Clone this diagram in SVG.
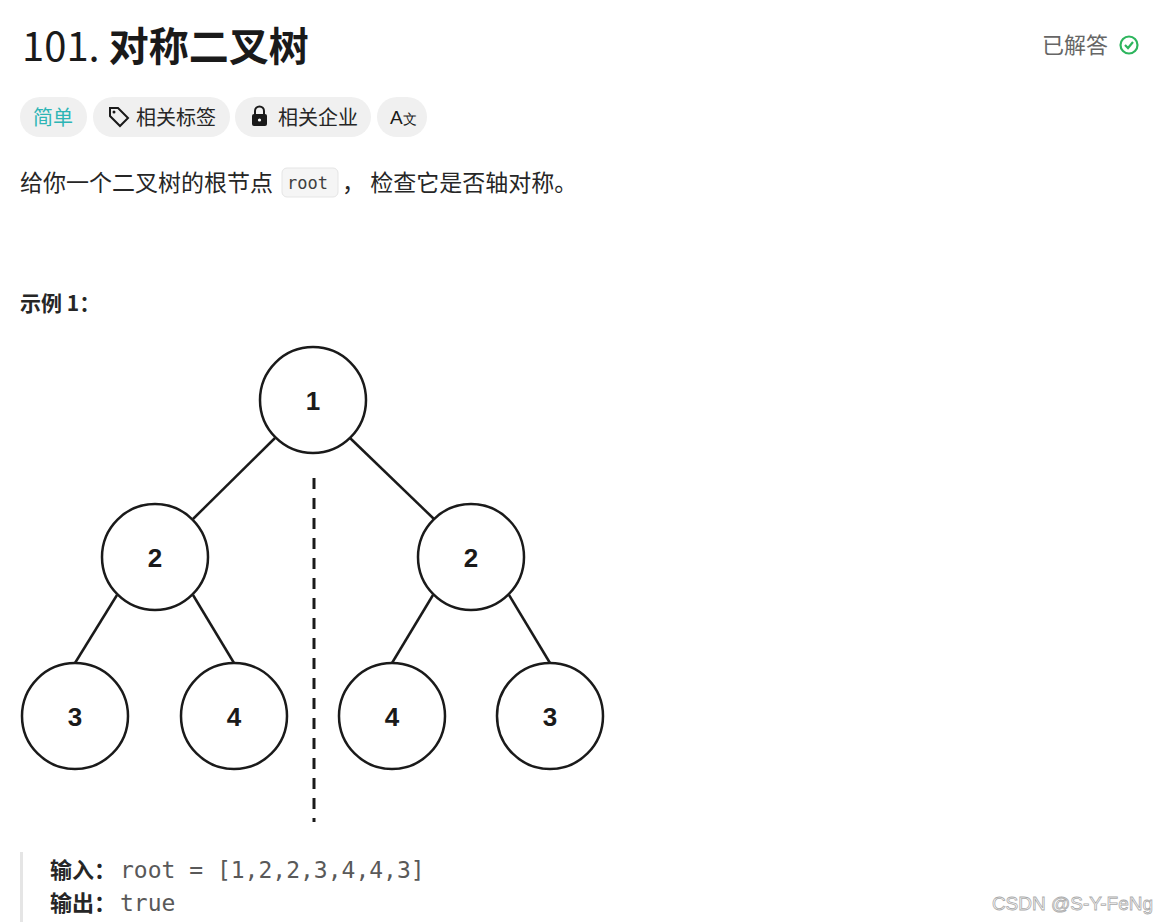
<svg xmlns="http://www.w3.org/2000/svg" width="1157" height="922" viewBox="0 0 1157 922">
<style>
.cjk{font-family:"Noto Sans CJK SC","Noto Sans",sans-serif}
.pill{fill:#f0f0f0}
.n{fill:#fff;stroke:#1a1a1a;stroke-width:2.5}
.lbl{font-family:"Liberation Sans",Arial,sans-serif;font-weight:bold;font-size:26px;fill:#1a1a1a;text-anchor:middle}
.e{stroke:#1a1a1a;stroke-width:2.5}
.mono{font-family:"DejaVu Sans Mono","Liberation Mono",monospace}
</style>
<rect width="1157" height="922" fill="#fff"/>
<text x="22" y="61" class="cjk" font-size="40" font-weight="bold" fill="#1a1a1a"><tspan font-weight="normal">101. </tspan>对称二叉树</text>
<text x="1042" y="53" class="cjk" font-size="22" fill="#666">已解答</text>
<circle cx="1129" cy="45" r="8.5" fill="none" stroke="#2db55d" stroke-width="2.2"/>
<path d="M1125 45 l3 3 l5 -6" fill="none" stroke="#2db55d" stroke-width="2.2"/>
<rect class="pill" x="20" y="97" width="67" height="40" rx="20"/>
<text x="33" y="125" class="cjk" font-size="20" fill="#2db5b5">简单</text>
<rect class="pill" x="93" y="97" width="137" height="40" rx="20"/>
<path d="M110 108 h8 l10 10 l-8 8 l-10 -10 z" fill="none" stroke="#1a1a1a" stroke-width="2"/>
<circle cx="114" cy="112" r="1.5" fill="#1a1a1a"/>
<text x="136" y="125" class="cjk" font-size="20" fill="#262626">相关标签</text>
<rect class="pill" x="235" y="97" width="136" height="40" rx="20"/>
<rect x="252" y="114" width="15" height="12" rx="2" fill="#1a1a1a"/>
<path d="M255 114 v-3 a4.5 4.5 0 0 1 9 0 v3" fill="none" stroke="#1a1a1a" stroke-width="2"/>
<circle cx="259.5" cy="120" r="1.6" fill="#fff"/>
<text x="278" y="125" class="cjk" font-size="20" fill="#262626">相关企业</text>
<rect class="pill" x="377" y="97" width="50" height="40" rx="20"/>
<text x="390" y="124" font-family="Liberation Sans,sans-serif" font-size="19" fill="#1a1a1a">A<tspan font-size="14">文</tspan></text>
<text x="20" y="191" class="cjk" font-size="23" fill="#262626">给你一个二叉树的根节点</text>
<rect x="282" y="168" width="56" height="29" rx="5" fill="#f5f5f5" stroke="#e5e5e5"/>
<text x="287" y="189" class="mono" font-size="17" fill="#404040">root</text>
<text x="342" y="191" class="cjk" font-size="23" fill="#262626">，  检查它是否轴对称。</text>
<text x="20" y="311" class="cjk" font-size="21" font-weight="bold" fill="#262626">示例 1：</text>
<g id="connectors">
<line class="e" x1="275" y1="438" x2="193" y2="519"/>
<line class="e" x1="350" y1="438" x2="434" y2="519"/>
<line class="e" x1="117" y1="595" x2="75" y2="663"/>
<line class="e" x1="193" y1="595" x2="234" y2="663"/>
<line class="e" x1="433" y1="595" x2="392" y2="663"/>
<line class="e" x1="509" y1="595" x2="550" y2="663"/>
<line x1="314" y1="478" x2="314" y2="822" stroke="#1a1a1a" stroke-width="3" stroke-dasharray="11 9"/>
</g>
<g id="n1"><circle class="n" cx="313" cy="400" r="53"/><text class="lbl" x="313" y="410">1</text></g>
<g id="n2a"><circle class="n" cx="155" cy="557" r="53"/><text class="lbl" x="155" y="567">2</text></g>
<g id="n2b"><circle class="n" cx="471" cy="557" r="53"/><text class="lbl" x="471" y="567">2</text></g>
<g id="n3a"><circle class="n" cx="75" cy="716" r="53"/><text class="lbl" x="75" y="726">3</text></g>
<g id="n4a"><circle class="n" cx="234" cy="716" r="53"/><text class="lbl" x="234" y="726">4</text></g>
<g id="n4b"><circle class="n" cx="392" cy="716" r="53"/><text class="lbl" x="392" y="726">4</text></g>
<g id="n3b"><circle class="n" cx="550" cy="716" r="53"/><text class="lbl" x="550" y="726">3</text></g>
<rect x="20" y="852" width="3" height="70" fill="#e5e5e5"/>
<text x="50" y="878" class="cjk" font-size="22" font-weight="bold" fill="#262626">输入：</text>
<text x="120" y="878" class="mono" font-size="23" fill="#595959">root = [1,2,2,3,4,4,3]</text>
<text x="50" y="911" class="cjk" font-size="22" font-weight="bold" fill="#262626">输出：</text>
<text x="120" y="911" class="mono" font-size="23" fill="#595959">true</text>
<text x="1153" y="910" text-anchor="end" font-family="Liberation Sans,sans-serif" font-size="19" fill="#fff" stroke="#aaa" stroke-width="0.8">CSDN @S-Y-FeNg</text>
</svg>
